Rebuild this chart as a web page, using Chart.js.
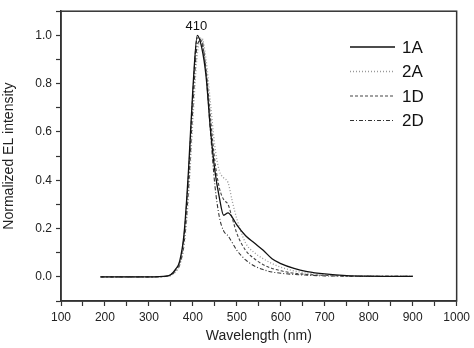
<!DOCTYPE html>
<html>
<head>
<meta charset="utf-8">
<script src="https://cdn.jsdelivr.net/npm/chart.js@4"></script>
<style>
  html, body { margin: 0; padding: 0; background: #fff; }
  #wrap { width: 474px; height: 348px; position: relative; }
</style>
</head>
<body>
<div id="wrap"><canvas id="elChart"></canvas></div>
<script>
// wavelength grid (nm) shared by all four spectra
const wavelength = [190, 250, 300, 340, 350, 360, 370, 380, 390, 400, 410, 420, 430, 440, 450,
    460, 470, 480, 490, 500, 520, 540, 560, 580, 600, 630, 660, 700, 750, 800, 850, 900];

const series1A = [0, 0, 0, 0.003, 0.01, 0.03, 0.065, 0.18, 0.44, 0.78, 1.0, 0.95, 0.83, 0.61, 0.44,
    0.33, 0.255, 0.265, 0.245, 0.215, 0.17, 0.14, 0.11, 0.075, 0.055, 0.035, 0.022, 0.012, 0.005, 0.003, 0.002, 0.002];
const series2A = [0, 0, 0, 0.002, 0.006, 0.02, 0.05, 0.13, 0.33, 0.65, 0.92, 0.99, 0.9, 0.72, 0.54,
    0.44, 0.41, 0.39, 0.31, 0.24, 0.14, 0.1, 0.075, 0.055, 0.04, 0.025, 0.015, 0.008, 0.004, 0.003, 0.002, 0.002];
const series1D = [0, 0, 0, 0.003, 0.009, 0.028, 0.06, 0.17, 0.42, 0.76, 0.99, 0.97, 0.86, 0.66, 0.48,
    0.37, 0.32, 0.3, 0.24, 0.18, 0.11, 0.075, 0.05, 0.035, 0.025, 0.015, 0.01, 0.006, 0.003, 0.002, 0.002, 0.002];
const series2D = [0, 0, 0, 0.002, 0.007, 0.022, 0.05, 0.14, 0.36, 0.7, 0.96, 0.98, 0.84, 0.6, 0.38,
    0.25, 0.19, 0.17, 0.14, 0.11, 0.07, 0.045, 0.03, 0.02, 0.015, 0.01, 0.007, 0.004, 0.003, 0.002, 0.002, 0.002];

const seriesNames = ['1A', '2A', '1D', '2D'];
const peakLabel = { x: 410, y: 1.0, text: '410' };

const styles = [
    { color: '#111', dash: [], width: 1.3 },
    { color: '#999', dash: [1, 2], width: 1.3 },
    { color: '#444', dash: [3, 2], width: 1.1 },
    { color: '#333', dash: [4, 2, 1, 2], width: 1.1 }
];

function toPoints(values) {
    return wavelength.map((w, i) => ({ x: w, y: values[i] }));
}

const allSeries = [series1A, series2A, series1D, series2D];

const FONT = 'Liberation Sans, Arial, sans-serif';

// frame, legend and peak label
const extras = {
    id: 'extras',
    afterDraw(chart) {
        const ctx = chart.ctx;
        const a = chart.chartArea;
        ctx.save();
        ctx.strokeStyle = '#333';
        ctx.lineWidth = 1.5;
        ctx.strokeRect(a.left, a.top, a.right - a.left, a.bottom - a.top);

        // legend
        ctx.font = '17px ' + FONT;
        ctx.textBaseline = 'middle';
        ctx.fillStyle = '#111';
        chart.data.datasets.forEach((ds, i) => {
            const y = 47 + i * 24.5;
            ctx.beginPath();
            ctx.setLineDash(styles[i].dash);
            ctx.strokeStyle = styles[i].color;
            ctx.lineWidth = styles[i].width;
            ctx.moveTo(350, y);
            ctx.lineTo(395, y);
            ctx.stroke();
            ctx.setLineDash([]);
            ctx.fillText(ds.label, 402, y + 1);
        });

        // peak annotation
        const px = chart.scales.x.getPixelForValue(peakLabel.x);
        const py = chart.scales.y.getPixelForValue(peakLabel.y);
        ctx.font = '13px ' + FONT;
        ctx.textAlign = 'center';
        ctx.textBaseline = 'bottom';
        ctx.fillText(peakLabel.text, px - 1, py - 2);
        ctx.restore();
    }
};

new Chart(document.getElementById('elChart'), {
    type: 'line',
    data: {
        datasets: allSeries.map((vals, i) => ({
            label: seriesNames[i],
            data: toPoints(vals),
            borderColor: styles[i].color,
            borderDash: styles[i].dash,
            borderWidth: styles[i].width,
            pointRadius: 0,
            tension: 0.35,
            cubicInterpolationMode: 'monotone',
            fill: false
        }))
    },
    options: {
        responsive: true,
        maintainAspectRatio: false,
        animation: false,
        layout: { padding: { left: 0, top: 4, right: 14, bottom: 0 } },
        scales: {
            x: {
                type: 'linear',
                min: 100,
                max: 1000,
                afterFit: s => { s.height = 47; },
                border: { color: '#333', width: 1.5 },
                grid: { drawOnChartArea: false, tickLength: 5, color: '#333', tickWidth: 1.2 },
                ticks: {
                    stepSize: 50,
                    autoSkip: false,
                    maxRotation: 0,
                    padding: 4,
                    color: '#222',
                    font: { family: FONT, size: 12 },
                    callback: v => (v % 100 === 0 ? String(v) : '')
                },
                title: {
                    display: true,
                    text: 'Wavelength (nm)',
                    color: '#222',
                    font: { family: FONT, size: 14 },
                    padding: { top: 2, bottom: 3 }
                }
            },
            y: {
                min: -0.1,
                max: 1.1,
                afterFit: s => { s.width = 61; },
                border: { color: '#333', width: 1.5 },
                grid: { drawOnChartArea: false, tickLength: 5, color: '#333', tickWidth: 1.2 },
                ticks: {
                    stepSize: 0.1,
                    autoSkip: false,
                    padding: 4,
                    color: '#222',
                    font: { family: FONT, size: 12 },
                    callback: v => {
                        const k = Math.round(v * 10);
                        return (k >= 0 && k <= 10 && k % 2 === 0) ? (k / 10).toFixed(1) : '';
                    }
                },
                title: {
                    display: true,
                    text: 'Normalized EL intensity',
                    color: '#222',
                    font: { family: FONT, size: 14 },
                    padding: { top: 1, bottom: 2 }
                }
            }
        },
        plugins: {
            legend: { display: false },
            tooltip: { enabled: false }
        }
    },
    plugins: [extras]
});
</script>
</body>
</html>
